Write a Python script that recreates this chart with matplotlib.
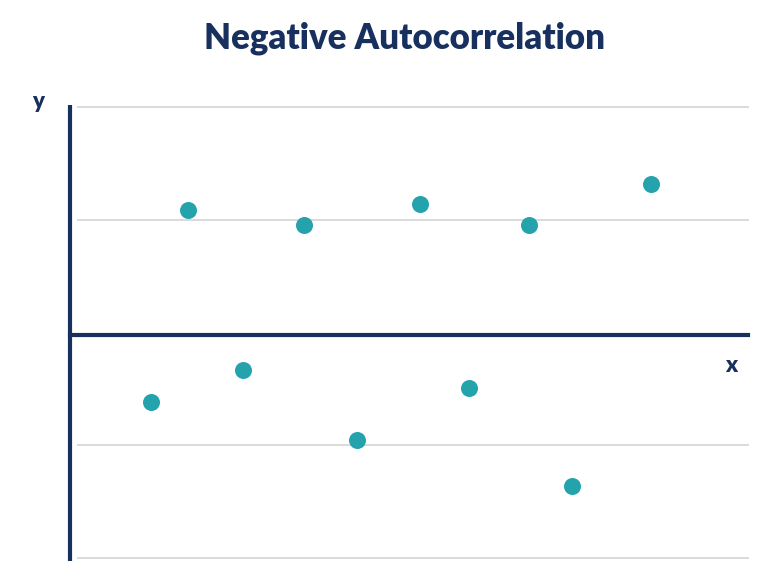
import numpy as np
import matplotlib.pyplot as plt

# values
x_vals = [1.31, 1.97, 2.95, 4.04, 5.0, 6.13, 7.0, 8.07, 8.85, 10.26]
y_vals = [-0.62, 1.09, -0.33, 0.95, -0.95, 1.14, -0.49, 0.95, -1.36, 1.32]
grid_levels = [-2, -1, 1, 2]

navy = "#17305e"
teal = "#25a3ad"

plt.rcParams["font.family"] = ["Lato", "DejaVu Sans"]

fig = plt.figure(figsize=(7.68, 5.73), dpi=100)
ax = fig.add_axes([78 / 768, 1 - 558 / 573, 670 / 768, 451 / 573])
ax.set_xlim(0, 12)
ax.set_ylim(-2, 2)

for g in grid_levels:
    ax.axhline(g, color="#d9d9d9", lw=1.4, zorder=1, clip_on=False)

# axes lines (x axis sits a hair below the zero level in the reference)
ax.axhline(-0.018, xmin=-0.012, xmax=1.0, color=navy, lw=3.0, zorder=2, clip_on=False)
ax.plot([-0.143, -0.143], [-2.03, 2.02], color=navy, lw=3.0, zorder=2,
        clip_on=False, solid_capstyle="butt")

ax.scatter(x_vals, y_vals, s=150, color=teal, zorder=3, linewidths=0)

for s in ax.spines.values():
    s.set_visible(False)
ax.set_xticks([])
ax.set_yticks([])

fig.text(405 / 768, 1 - 38 / 573, "Negative Autocorrelation", ha="center", va="center",
         fontsize=25, fontweight="heavy", color=navy)
fig.text(38 / 768, 1 - 101 / 573, "y", ha="center", va="center",
         fontsize=16, fontweight="heavy", color=navy)
fig.text(731 / 768, 1 - 365 / 573, "x", ha="center", va="center",
         fontsize=16, fontweight="heavy", color=navy)

fig.savefig("out.png", dpi=100)
